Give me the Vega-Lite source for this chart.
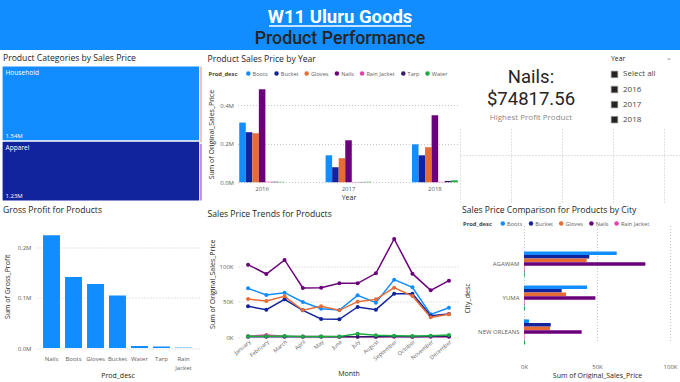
{
  "$schema": "https://vega.github.io/schema/vega-lite/v6.json",
  "background": "white",
  "padding": 0,
  "spacing": 3,
  "resolve": {"scale": {"color": "independent"}, "legend": {"color": "independent"}},
  "config": {
    "view": {"stroke": null},
    "font": "Open Sans",
    "title": {"fontSize": 8.6, "fontWeight": "normal", "color": "#252423", "anchor": "start", "font": "Open Sans"},
    "axis": {"labelFont": "Open Sans", "titleFont": "Open Sans", "labelFontSize": 6, "labelColor": "#605E5C", "titleFontSize": 7, "titleColor": "#252423", "titleFontWeight": "normal", "ticks": false, "domain": false, "grid": false, "gridColor": "#C8C6C4", "gridDash": [1, 2], "labelFlush": false},
    "legend": {"orient": "none", "direction": "horizontal", "titleOrient": "left", "symbolType": "circle", "symbolSize": 20, "symbolStrokeWidth": 0, "symbolOpacity": 1, "labelFont": "Open Sans", "labelFontSize": 5.6, "labelColor": "#605E5C", "titleFont": "Open Sans", "titleFontSize": 5.8, "titleFontWeight": "bold", "titleColor": "#484644", "labelOffset": 1.5, "columnPadding": 5.2, "titlePadding": 8},
    "text": {"font": "Open Sans"}
  },
  "datasets": {
    "categories": [
      {"Category": "Household", "Sales": 1540000, "col": "a"},
      {"Category": "Apparel", "Sales": 1230000, "col": "a"},
      {"Category": "Outdoor", "Sales": 16000, "col": "b"},
      {"Category": "Beverages", "Sales": 12000, "col": "b"}
    ],
    "yearSales": [
      {"Year": "2016", "Prod_desc": "Boots", "Sales": 310000},
      {"Year": "2016", "Prod_desc": "Bucket", "Sales": 260000},
      {"Year": "2016", "Prod_desc": "Gloves", "Sales": 255000},
      {"Year": "2016", "Prod_desc": "Nails", "Sales": 483000},
      {"Year": "2016", "Prod_desc": "Rain Jacket", "Sales": 3000},
      {"Year": "2016", "Prod_desc": "Tarp", "Sales": 2000},
      {"Year": "2016", "Prod_desc": "Water", "Sales": 2000},
      {"Year": "2017", "Prod_desc": "Boots", "Sales": 140000},
      {"Year": "2017", "Prod_desc": "Bucket", "Sales": 78000},
      {"Year": "2017", "Prod_desc": "Gloves", "Sales": 125000},
      {"Year": "2017", "Prod_desc": "Nails", "Sales": 218000},
      {"Year": "2017", "Prod_desc": "Rain Jacket", "Sales": 1500},
      {"Year": "2017", "Prod_desc": "Tarp", "Sales": 1500},
      {"Year": "2017", "Prod_desc": "Water", "Sales": 2500},
      {"Year": "2018", "Prod_desc": "Boots", "Sales": 197000},
      {"Year": "2018", "Prod_desc": "Bucket", "Sales": 140000},
      {"Year": "2018", "Prod_desc": "Gloves", "Sales": 182000},
      {"Year": "2018", "Prod_desc": "Nails", "Sales": 348000},
      {"Year": "2018", "Prod_desc": "Rain Jacket", "Sales": 2000},
      {"Year": "2018", "Prod_desc": "Tarp", "Sales": 7000},
      {"Year": "2018", "Prod_desc": "Water", "Sales": 10000}
    ],
    "card": [
      {"line": "name", "text": "Nails:"},
      {"line": "value", "text": "$74817.56"},
      {"line": "label", "text": "Highest Profit Product"}
    ],
    "slicer": [
      {"item": "Year"},
      {"item": "Select all"},
      {"item": "2016"},
      {"item": "2017"},
      {"item": "2018"}
    ],
    "profit": [
      {"Prod_desc": "Nails", "Gross_Profit": 223800},
      {"Prod_desc": "Boots", "Gross_Profit": 141000},
      {"Prod_desc": "Gloves", "Gross_Profit": 127000},
      {"Prod_desc": "Bucket", "Gross_Profit": 104000},
      {"Prod_desc": "Water", "Gross_Profit": 4000},
      {"Prod_desc": "Tarp", "Gross_Profit": 3000},
      {"Prod_desc": "Rain Jacket", "Gross_Profit": 2000}
    ],
    "monthly": [
      {"Month": "January", "Prod_desc": "Boots", "Sales": 68500},
      {"Month": "February", "Prod_desc": "Boots", "Sales": 59200},
      {"Month": "March", "Prod_desc": "Boots", "Sales": 62400},
      {"Month": "April", "Prod_desc": "Boots", "Sales": 49300},
      {"Month": "May", "Prod_desc": "Boots", "Sales": 39900},
      {"Month": "June", "Prod_desc": "Boots", "Sales": 38000},
      {"Month": "July", "Prod_desc": "Boots", "Sales": 58700},
      {"Month": "August", "Prod_desc": "Boots", "Sales": 48400},
      {"Month": "September", "Prod_desc": "Boots", "Sales": 80800},
      {"Month": "October", "Prod_desc": "Boots", "Sales": 70000},
      {"Month": "November", "Prod_desc": "Boots", "Sales": 31900},
      {"Month": "December", "Prod_desc": "Boots", "Sales": 41300},
      {"Month": "January", "Prod_desc": "Bucket", "Sales": 43200},
      {"Month": "February", "Prod_desc": "Bucket", "Sales": 38500},
      {"Month": "March", "Prod_desc": "Bucket", "Sales": 53000},
      {"Month": "April", "Prod_desc": "Bucket", "Sales": 37600},
      {"Month": "May", "Prod_desc": "Bucket", "Sales": 25400},
      {"Month": "June", "Prod_desc": "Bucket", "Sales": 24900},
      {"Month": "July", "Prod_desc": "Bucket", "Sales": 42300},
      {"Month": "August", "Prod_desc": "Bucket", "Sales": 38500},
      {"Month": "September", "Prod_desc": "Bucket", "Sales": 61000},
      {"Month": "October", "Prod_desc": "Bucket", "Sales": 61000},
      {"Month": "November", "Prod_desc": "Bucket", "Sales": 30000},
      {"Month": "December", "Prod_desc": "Bucket", "Sales": 32400},
      {"Month": "January", "Prod_desc": "Gloves", "Sales": 53500},
      {"Month": "February", "Prod_desc": "Gloves", "Sales": 50700},
      {"Month": "March", "Prod_desc": "Gloves", "Sales": 57300},
      {"Month": "April", "Prod_desc": "Gloves", "Sales": 37600},
      {"Month": "May", "Prod_desc": "Gloves", "Sales": 43200},
      {"Month": "June", "Prod_desc": "Gloves", "Sales": 37600},
      {"Month": "July", "Prod_desc": "Gloves", "Sales": 49800},
      {"Month": "August", "Prod_desc": "Gloves", "Sales": 53000},
      {"Month": "September", "Prod_desc": "Gloves", "Sales": 69500},
      {"Month": "October", "Prod_desc": "Gloves", "Sales": 57700},
      {"Month": "November", "Prod_desc": "Gloves", "Sales": 27700},
      {"Month": "December", "Prod_desc": "Gloves", "Sales": 31900},
      {"Month": "January", "Prod_desc": "Nails", "Sales": 101900},
      {"Month": "February", "Prod_desc": "Nails", "Sales": 88700},
      {"Month": "March", "Prod_desc": "Nails", "Sales": 108500},
      {"Month": "April", "Prod_desc": "Nails", "Sales": 69000},
      {"Month": "May", "Prod_desc": "Nails", "Sales": 69500},
      {"Month": "June", "Prod_desc": "Nails", "Sales": 75600},
      {"Month": "July", "Prod_desc": "Nails", "Sales": 75600},
      {"Month": "August", "Prod_desc": "Nails", "Sales": 89700},
      {"Month": "September", "Prod_desc": "Nails", "Sales": 138000},
      {"Month": "October", "Prod_desc": "Nails", "Sales": 89200},
      {"Month": "November", "Prod_desc": "Nails", "Sales": 65700},
      {"Month": "December", "Prod_desc": "Nails", "Sales": 79300},
      {"Month": "January", "Prod_desc": "Rain Jacket", "Sales": 1200},
      {"Month": "February", "Prod_desc": "Rain Jacket", "Sales": 2800},
      {"Month": "March", "Prod_desc": "Rain Jacket", "Sales": 1000},
      {"Month": "April", "Prod_desc": "Rain Jacket", "Sales": 600},
      {"Month": "May", "Prod_desc": "Rain Jacket", "Sales": 600},
      {"Month": "June", "Prod_desc": "Rain Jacket", "Sales": 500},
      {"Month": "July", "Prod_desc": "Rain Jacket", "Sales": 500},
      {"Month": "August", "Prod_desc": "Rain Jacket", "Sales": 400},
      {"Month": "September", "Prod_desc": "Rain Jacket", "Sales": 400},
      {"Month": "October", "Prod_desc": "Rain Jacket", "Sales": 400},
      {"Month": "November", "Prod_desc": "Rain Jacket", "Sales": 400},
      {"Month": "December", "Prod_desc": "Rain Jacket", "Sales": 400},
      {"Month": "January", "Prod_desc": "Tarp", "Sales": 200},
      {"Month": "February", "Prod_desc": "Tarp", "Sales": 200},
      {"Month": "March", "Prod_desc": "Tarp", "Sales": 300},
      {"Month": "April", "Prod_desc": "Tarp", "Sales": 300},
      {"Month": "May", "Prod_desc": "Tarp", "Sales": 300},
      {"Month": "June", "Prod_desc": "Tarp", "Sales": 300},
      {"Month": "July", "Prod_desc": "Tarp", "Sales": 400},
      {"Month": "August", "Prod_desc": "Tarp", "Sales": 500},
      {"Month": "September", "Prod_desc": "Tarp", "Sales": 600},
      {"Month": "October", "Prod_desc": "Tarp", "Sales": 500},
      {"Month": "November", "Prod_desc": "Tarp", "Sales": 600},
      {"Month": "December", "Prod_desc": "Tarp", "Sales": 700},
      {"Month": "January", "Prod_desc": "Water", "Sales": 1000},
      {"Month": "February", "Prod_desc": "Water", "Sales": 1000},
      {"Month": "March", "Prod_desc": "Water", "Sales": 1500},
      {"Month": "April", "Prod_desc": "Water", "Sales": 800},
      {"Month": "May", "Prod_desc": "Water", "Sales": 700},
      {"Month": "June", "Prod_desc": "Water", "Sales": 800},
      {"Month": "July", "Prod_desc": "Water", "Sales": 4700},
      {"Month": "August", "Prod_desc": "Water", "Sales": 2300},
      {"Month": "September", "Prod_desc": "Water", "Sales": 1800},
      {"Month": "October", "Prod_desc": "Water", "Sales": 1300},
      {"Month": "November", "Prod_desc": "Water", "Sales": 1800},
      {"Month": "December", "Prod_desc": "Water", "Sales": 2800}
    ],
    "city": [
      {"City_desc": "AGAWAM", "Prod_desc": "Boots", "Sales": 63500},
      {"City_desc": "AGAWAM", "Prod_desc": "Bucket", "Sales": 44700},
      {"City_desc": "AGAWAM", "Prod_desc": "Gloves", "Sales": 42900},
      {"City_desc": "AGAWAM", "Prod_desc": "Nails", "Sales": 83100},
      {"City_desc": "AGAWAM", "Prod_desc": "Rain Jacket", "Sales": 400},
      {"City_desc": "AGAWAM", "Prod_desc": "Tarp", "Sales": 300},
      {"City_desc": "AGAWAM", "Prod_desc": "Water", "Sales": 600},
      {"City_desc": "YUMA", "Prod_desc": "Boots", "Sales": 43200},
      {"City_desc": "YUMA", "Prod_desc": "Bucket", "Sales": 25800},
      {"City_desc": "YUMA", "Prod_desc": "Gloves", "Sales": 28800},
      {"City_desc": "YUMA", "Prod_desc": "Nails", "Sales": 48900},
      {"City_desc": "YUMA", "Prod_desc": "Rain Jacket", "Sales": 400},
      {"City_desc": "YUMA", "Prod_desc": "Tarp", "Sales": 300},
      {"City_desc": "YUMA", "Prod_desc": "Water", "Sales": 600},
      {"City_desc": "NEW ORLEANS", "Prod_desc": "Boots", "Sales": 3400},
      {"City_desc": "NEW ORLEANS", "Prod_desc": "Bucket", "Sales": 18300},
      {"City_desc": "NEW ORLEANS", "Prod_desc": "Gloves", "Sales": 17800},
      {"City_desc": "NEW ORLEANS", "Prod_desc": "Nails", "Sales": 39500},
      {"City_desc": "NEW ORLEANS", "Prod_desc": "Rain Jacket", "Sales": 300},
      {"City_desc": "NEW ORLEANS", "Prod_desc": "Tarp", "Sales": 200},
      {"City_desc": "NEW ORLEANS", "Prod_desc": "Water", "Sales": 800}
    ]
  },
  "vconcat": [
    {
      "width": 680,
      "height": 50,
      "view": {"fill": "#118DFF", "stroke": null},
      "data": {"values": [{"line": "title", "text": "W11 Uluru Goods"}, {"line": "subtitle", "text": "Product Performance"}]},
      "encoding": {
        "y": {"field": "line", "type": "ordinal", "scale": {"type": "point", "domain": ["title", "subtitle"], "padding": 0.69, "align": 0.79}, "axis": null}
      },
      "layer": [
        {"transform": [{"filter": "datum.line == 'title'"}], "mark": {"type": "text", "font": "Roboto", "fontSize": 18.5, "fontWeight": "bold", "color": "white", "baseline": "alphabetic"}, "encoding": {"text": {"field": "text"}}},
        {"transform": [{"filter": "datum.line == 'title'"}], "mark": {"type": "tick", "orient": "horizontal", "size": 142, "thickness": 1.5, "color": "white", "yOffset": 3, "opacity": 1}},
        {"transform": [{"filter": "datum.line == 'subtitle'"}], "mark": {"type": "text", "font": "Roboto", "fontSize": 17.8, "fontWeight": 500, "color": "#252423", "baseline": "alphabetic"}, "encoding": {"text": {"field": "text"}}}
      ]
    },
    {
      "vconcat": [
        {
          "hconcat": [
            {
              "hconcat": [
                {
                  "title": {"text": "Product Categories by Sales Price", "dx": 3, "offset": 2.4},
                  "width": 204,
                  "height": 135,
                  "data": {"name": "categories"},
                  "transform": [
                    {"stack": "Sales", "groupby": [], "sort": [{"field": "col", "order": "ascending"}, {"field": "Sales", "order": "descending"}], "as": ["cx0", "cx1"]},
                    {"joinaggregate": [{"op": "min", "field": "cx0", "as": "colStart"}, {"op": "max", "field": "cx1", "as": "colEnd"}], "groupby": ["col"]},
                    {"stack": "Sales", "groupby": ["col"], "sort": [{"field": "Sales", "order": "descending"}], "offset": "normalize", "as": ["ry0", "ry1"]}
                  ],
                  "encoding": {
                    "x": {"field": "colStart", "type": "quantitative", "scale": {"zero": false, "nice": false, "padding": 2}, "axis": null},
                    "y": {"field": "ry0", "type": "quantitative", "scale": {"domain": [0, 1], "reverse": true, "nice": false}, "axis": null}
                  },
                  "layer": [
                    {"mark": {"type": "rect", "stroke": "white", "strokeWidth": 1.2}, "encoding": {"x2": {"field": "colEnd"}, "y2": {"field": "ry1"}, "color": {"field": "Category", "type": "nominal", "scale": {"domain": ["Household", "Apparel", "Outdoor", "Beverages"], "range": ["#118DFF", "#12239E", "#E66C37", "#6B007B"]}, "legend": null}}},
                    {"transform": [{"filter": "datum.col == 'a'"}], "mark": {"type": "text", "align": "left", "baseline": "top", "dx": 3.5, "dy": 3.5, "fontSize": 6.6, "color": "white"}, "encoding": {"text": {"field": "Category"}}},
                    {"transform": [{"filter": "datum.col == 'a'"}], "mark": {"type": "text", "align": "left", "baseline": "bottom", "dx": 3.5, "dy": -2.5, "fontSize": 6, "color": "white"}, "encoding": {"y": {"field": "ry1", "type": "quantitative"}, "text": {"field": "Sales", "type": "quantitative", "format": ".3s"}}}
                  ]
                },
                {
                  "title": {"text": "Product Sales Price by Year", "dx": 0.5, "offset": 2.4},
                  "width": 222,
                  "height": 116.25,
                  "data": {"name": "yearSales"},
                  "mark": {"type": "bar"},
                  "encoding": {
                    "x": {"field": "Year", "type": "nominal", "scale": {"paddingInner": 0.47, "paddingOuter": 0.02}, "axis": {"labelAngle": 0, "title": "Year", "labelPadding": 3, "titlePadding": 2}},
                    "xOffset": {"field": "Prod_desc", "type": "nominal", "sort": ["Boots", "Bucket", "Gloves", "Nails", "Rain Jacket", "Tarp", "Water"], "scale": {"paddingInner": 0}},
                    "y": {"field": "Sales", "type": "quantitative", "scale": {"domain": [0, 500000], "nice": false, "range": [116.25, 20]}, "axis": {"values": [0, 200000, 400000], "labelExpr": "format(datum.value / 1000000, '.1f') + 'M'", "title": "Sum of Original_Sales_Price", "grid": true, "minExtent": 16, "maxExtent": 16, "labelPadding": 4, "titlePadding": 7.5}},
                    "color": {"field": "Prod_desc", "type": "nominal", "scale": {"domain": ["Boots", "Bucket", "Gloves", "Nails", "Rain Jacket", "Tarp", "Water"], "range": ["#118DFF", "#12239E", "#E66C37", "#6B007B", "#E044A7", "#35186E", "#1AAB40"]}, "legend": {"title": "Prod_desc", "symbolType": "circle", "legendX": -29, "legendY": 4.5}}
                  }
                }
              ],
              "spacing": 2.5,
              "resolve": {"scale": {"color": "independent"}, "legend": {"color": "independent"}}
            },
            {
              "vconcat": [
                {
                  "width": 220,
                  "height": 63,
                  "layer": [
                    {"data": {"name": "card"}, "transform": [{"filter": "datum.line == 'name'"}], "mark": {"type": "text", "font": "Roboto", "fontSize": 18.5, "color": "#252423", "baseline": "middle"},
                     "encoding": {"x": {"datum": "card", "type": "ordinal", "scale": {"type": "point", "domain": ["card", "slicer"], "padding": 0, "range": [71, 154.5]}, "axis": null}, "y": {"field": "line", "type": "ordinal", "scale": {"type": "point", "domain": ["name", "value", "label"], "padding": 0, "range": [10.5, 51.5]}, "axis": null}, "text": {"field": "text"}}},
                    {"data": {"name": "card"}, "transform": [{"filter": "datum.line == 'value'"}], "mark": {"type": "text", "font": "Roboto", "fontSize": 18.5, "color": "#252423", "baseline": "middle", "dy": 2},
                     "encoding": {"x": {"datum": "card", "type": "ordinal", "scale": {"type": "point", "domain": ["card", "slicer"], "padding": 0, "range": [71, 154.5]}, "axis": null}, "y": {"field": "line", "type": "ordinal", "scale": {"type": "point", "domain": ["name", "value", "label"], "padding": 0, "range": [10.5, 51.5]}, "axis": null}, "text": {"field": "text"}}},
                    {"data": {"name": "card"}, "transform": [{"filter": "datum.line == 'label'"}], "mark": {"type": "text", "fontSize": 8, "color": "#8A8886", "baseline": "middle"},
                     "encoding": {"x": {"datum": "card", "type": "ordinal", "scale": {"type": "point", "domain": ["card", "slicer"], "padding": 0, "range": [71, 154.5]}, "axis": null}, "y": {"field": "line", "type": "ordinal", "scale": {"type": "point", "domain": ["name", "value", "label"], "padding": 0, "range": [10.5, 51.5]}, "axis": null}, "text": {"field": "text"}}},
                    {"data": {"name": "slicer"}, "transform": [{"filter": "datum.item == 'Year'"}], "mark": {"type": "text", "align": "left", "baseline": "middle", "fontSize": 6.9, "color": "#252423", "dx": -3.5},
                     "encoding": {"x": {"datum": "slicer", "type": "ordinal", "scale": {"type": "point", "domain": ["card", "slicer"], "padding": 0, "range": [71, 154.5]}, "axis": null}, "y": {"field": "item", "type": "ordinal", "scale": {"type": "point", "domain": ["Year", "Select all", "2016", "2017", "2018"], "padding": 0, "range": [-6.7, 53.7]}, "axis": null}, "text": {"field": "item"}}},
                    {"data": {"name": "slicer"}, "transform": [{"filter": "datum.item == 'Year'"}], "mark": {"type": "text", "text": "⌄", "font": "DejaVu Sans", "align": "center", "baseline": "middle", "fontSize": 7.5, "color": "#8A8886", "dx": 54.5, "dy": -1.5},
                     "encoding": {"x": {"datum": "slicer", "type": "ordinal", "scale": {"type": "point", "domain": ["card", "slicer"], "padding": 0, "range": [71, 154.5]}, "axis": null}, "y": {"field": "item", "type": "ordinal", "scale": {"type": "point", "domain": ["Year", "Select all", "2016", "2017", "2018"], "padding": 0, "range": [-6.7, 53.7]}, "axis": null}}},
                    {"data": {"name": "slicer"}, "transform": [{"filter": "datum.item != 'Year'"}], "mark": {"type": "point", "shape": "square", "filled": true, "size": 42, "fill": "#252423", "stroke": "#8A8886", "strokeWidth": 0.7, "opacity": 1},
                     "encoding": {"x": {"datum": "slicer", "type": "ordinal", "scale": {"type": "point", "domain": ["card", "slicer"], "padding": 0, "range": [71, 154.5]}, "axis": null}, "y": {"field": "item", "type": "ordinal", "scale": {"type": "point", "domain": ["Year", "Select all", "2016", "2017", "2018"], "padding": 0, "range": [-6.7, 53.7]}, "axis": null}}},
                    {"data": {"name": "slicer"}, "transform": [{"filter": "datum.item != 'Year'"}], "mark": {"type": "text", "align": "left", "baseline": "middle", "dx": 8.5, "fontSize": 8, "color": "#484644"},
                     "encoding": {"x": {"datum": "slicer", "type": "ordinal", "scale": {"type": "point", "domain": ["card", "slicer"], "padding": 0, "range": [71, 154.5]}, "axis": null}, "y": {"field": "item", "type": "ordinal", "scale": {"type": "point", "domain": ["Year", "Select all", "2016", "2017", "2018"], "padding": 0, "range": [-6.7, 53.7]}, "axis": null}, "text": {"field": "item"}}}
                  ],
                  "resolve": {"scale": {"y": "independent"}}
                },
                {
                  "width": 220,
                  "height": 73,
                  "data": {"values": [{"gx": 0, "gy": 0}]},
                  "mark": {"type": "point", "opacity": 0},
                  "encoding": {
                    "x": {"field": "gx", "type": "quantitative", "scale": {"domain": [0, 4.31], "nice": false, "zero": false}, "axis": {"grid": true, "values": [0, 1, 2, 3, 4], "labels": false, "title": null, "minExtent": 0, "maxExtent": 0}},
                    "y": {"field": "gy", "type": "quantitative", "scale": {"domain": [0, 1.55], "nice": false}, "axis": {"grid": true, "values": [1], "labels": false, "title": null, "minExtent": 0, "maxExtent": 0}}
                  }
                }
              ],
              "spacing": 0
            }
          ],
          "spacing": -3,
          "resolve": {"scale": {"color": "independent"}, "legend": {"color": "independent"}}
        },
        {
          "hconcat": [
            {
              "hconcat": [
                {
                  "title": {"text": "Gross Profit for Products", "dx": 3, "offset": 10.4},
                  "width": 199,
                  "height": 123.5,
                  "data": {"name": "profit"},
                  "mark": {"type": "bar"},
                  "encoding": {
                    "x": {"field": "Prod_desc", "type": "nominal", "sort": ["Nails", "Boots", "Gloves", "Bucket", "Water", "Tarp", "Rain Jacket"], "scale": {"paddingInner": 0.23, "paddingOuter": 0.32, "range": [36, 199]}, "axis": {"labelAngle": 0, "title": "Prod_desc", "labelPadding": 7, "titlePadding": 1, "labelExpr": "datum.label == 'Rain Jacket' ? ['Rain', 'Jacket'] : datum.label", "labelLineHeight": 9}},
                    "y": {"field": "Gross_Profit", "type": "quantitative", "scale": {"domain": [0, 245000], "nice": false}, "axis": {"values": [0, 100000, 200000], "labelExpr": "format(datum.value / 1000000, '.1f') + 'M'", "title": "Sum of Gross_Profit", "grid": true, "offset": -36, "minExtent": 17, "maxExtent": 17, "labelPadding": 5, "titlePadding": 8.5}},
                    "color": {"condition": {"test": "datum.Prod_desc == 'Rain Jacket'", "value": "#9FD0FF"}, "value": "#118DFF"}
                  }
                },
                {
                  "title": {"text": "Sales Price Trends for Products", "dx": -1, "offset": 6.4},
                  "width": 221,
                  "height": 112.5,
                  "data": {"name": "monthly"},
                  "encoding": {
                    "x": {"field": "Month", "type": "ordinal", "sort": ["January", "February", "March", "April", "May", "June", "July", "August", "September", "October", "November", "December"], "scale": {"type": "point", "padding": 0.55}, "axis": {"labelAngle": -40, "title": "Month", "labelPadding": 2, "titlePadding": 8, "labelFontSize": 5.5}},
                    "y": {"field": "Sales", "type": "quantitative", "scale": {"domain": [0, 150000], "nice": false, "range": [112.5, 6]}, "axis": {"values": [0, 50000, 100000], "labelExpr": "format(datum.value / 1000, 'd') + 'K'", "title": "Sum of Original_Sales_Price", "grid": true, "minExtent": 18, "maxExtent": 18, "labelPadding": 5, "titlePadding": 4.5}}
                  },
                  "layer": [
                    {"mark": {"type": "line", "strokeWidth": 1.5}, "encoding": {"color": {"field": "Prod_desc", "type": "nominal", "scale": {"domain": ["Boots", "Bucket", "Gloves", "Nails", "Rain Jacket", "Tarp", "Water"], "range": ["#118DFF", "#12239E", "#E66C37", "#6B007B", "#E044A7", "#35186E", "#1AAB40"]}, "legend": null}}},
                    {"mark": {"type": "point", "filled": true, "size": 16, "opacity": 1}, "encoding": {"color": {"field": "Prod_desc", "type": "nominal", "scale": {"domain": ["Boots", "Bucket", "Gloves", "Nails", "Rain Jacket", "Tarp", "Water"], "range": ["#118DFF", "#12239E", "#E66C37", "#6B007B", "#E044A7", "#35186E", "#1AAB40"]}, "legend": {"title": "Prod_desc", "symbolType": "circle", "legendX": -30, "legendY": -4}}}}
                  ]
                }
              ],
              "spacing": 8
            },
            {
              "title": {"text": "Sales Price Comparison for Products by City", "dx": -1, "offset": 6.4},
              "width": 146,
              "height": 131.5,
              "data": {"name": "city"},
              "mark": {"type": "bar"},
              "encoding": {
                "y": {"field": "City_desc", "type": "nominal", "sort": ["AGAWAM", "YUMA", "NEW ORLEANS"], "scale": {"paddingInner": 0.26, "paddingOuter": 0.335, "range": [15.5, 131.5]}, "axis": {"title": "City_desc", "labelPadding": 5, "minExtent": 48, "maxExtent": 48, "titlePadding": 5.5}},
                "yOffset": {"field": "Prod_desc", "type": "nominal", "sort": ["Boots", "Bucket", "Gloves", "Nails", "Rain Jacket", "Tarp", "Water"], "scale": {"paddingInner": 0}},
                "x": {"field": "Sales", "type": "quantitative", "scale": {"domain": [0, 100000], "nice": false}, "axis": {"values": [0, 50000, 100000], "labelExpr": "format(datum.value / 1000, 'd') + 'K'", "title": "Sum of Original_Sales_Price", "grid": true, "labelPadding": 7, "titlePadding": 2.5}},
                "color": {"field": "Prod_desc", "type": "nominal", "scale": {"domain": ["Boots", "Bucket", "Gloves", "Nails", "Rain Jacket", "Tarp", "Water"], "range": ["#118DFF", "#12239E", "#E66C37", "#6B007B", "#E044A7", "#35186E", "#1AAB40"]}, "legend": {"title": "Prod_desc", "symbolType": "circle", "legendX": -61, "legendY": -4, "values": ["Boots", "Bucket", "Gloves", "Nails", "Rain Jacket"]}}
              }
            }
          ],
          "spacing": 3,
          "resolve": {"scale": {"color": "independent"}, "legend": {"color": "independent"}}
        }
      ],
      "spacing": 0.5,
      "resolve": {"scale": {"color": "independent"}, "legend": {"color": "independent"}}
    }
  ]
}
